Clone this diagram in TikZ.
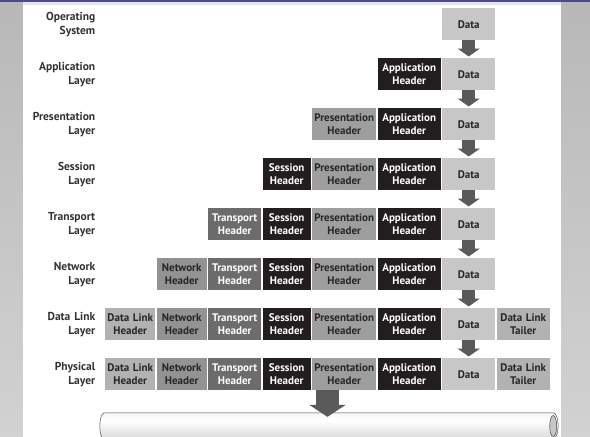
\documentclass[tikz,border=0pt]{standalone}
\usepackage{fontspec}
\setmainfont{PT Sans}
\usetikzlibrary{matrix,arrows.meta,calc}

\definecolor{backtop}{HTML}{B8B8B8}
\definecolor{backbot}{HTML}{D2D2D2}
\definecolor{rule}{HTML}{4B4A8C}
\definecolor{ink}{HTML}{262626}
\definecolor{labelink}{HTML}{333333}
\definecolor{datfill}{HTML}{C7C7C7}
\definecolor{blkfill}{HTML}{221E1F}
\definecolor{prefill}{HTML}{9E9E9E}
\definecolor{trafill}{HTML}{6C6C6C}
\definecolor{netfill}{HTML}{939393}
\definecolor{dlhfill}{HTML}{B2B2B2}
\definecolor{arrowgray}{HTML}{5A5A5A}

\newcommand\osifont{\bfseries\fontsize{11}{13}\selectfont}
\newcommand\layerfont{\bfseries\fontsize{11.5}{14}\selectfont}

\pgfdeclareverticalshading{pipeshade}{100bp}{color(0bp)=(gray!70); color(20bp)=(gray!35);
  color(60bp)=(white); color(80bp)=(gray!10); color(92bp)=(gray!25); color(100bp)=(gray!65)}

\tikzset{
  dat/.style={fill=datfill},
  app/.style={fill=blkfill, text=white},
  pre/.style={fill=prefill},
  ses/.style={fill=blkfill, text=white},
  tra/.style={fill=trafill, text=white},
  net/.style={fill=netfill},
  dlh/.style={fill=dlhfill},
  tai/.style={fill=dlhfill},
  drop/.style={draw=arrowgray, line width=12.5pt,
               -{Triangle[width=22pt, length=8pt]}, shorten >=1.5pt},
  bigdrop/.style={draw=arrowgray, line width=23pt,
               -{Triangle[width=36pt, length=12pt]}, shorten >=-4pt},
  tube/.style={minimum width=458pt, minimum height=26pt, inner sep=0pt}
}

\begin{document}
\begin{tikzpicture}[x=1pt, y=-1pt]
    \useasboundingbox (0,0) rectangle (590,437);
    % backdrop and white sheet
    \shade[top color=backtop, bottom color=backbot] (0,0) rectangle (590,437);
    \fill[rule] (0,0) rectangle (590,1.8);
    \fill[gray!20] (23,1.8) rectangle (561,5);
    \fill[white] (23,5) rectangle (561,437);

    \matrix (osi) [matrix of nodes, nodes in empty cells, ampersand replacement=\&,
            anchor=north west, inner sep=0pt, row sep=18pt, column sep=1.5pt,
            nodes={anchor=center, minimum height=32pt, inner sep=0pt,
                   align=center, text=ink, font=\osifont},
            column 1/.style={nodes={text width=70pt, align=right, text=labelink, font=\layerfont}},
            column 2/.style={nodes={text width=50pt}},
            column 3/.style={nodes={text width=50pt}},
            column 4/.style={nodes={text width=53pt}},
            column 5/.style={nodes={text width=48pt}},
            column 6/.style={nodes={text width=64pt}},
            column 7/.style={nodes={text width=63pt}},
            column 8/.style={nodes={text width=53pt}},
            column 9/.style={nodes={text width=53pt}}] at (25,8) {
      {Operating\\System} \&[8.5pt] \& \& \& \& \& \& |[dat]| Data \& \\
      {Application\\Layer} \&[8.5pt] \& \& \& \& \& |[app]| {Application\\Header} \& |[dat]| Data \& \\
      {Presentation\\Layer} \&[8.5pt] \& \& \& \& |[pre]| {Presentation\\Header} \& |[app]| {Application\\Header} \& |[dat]| Data \& \\
      {Session\\Layer} \&[8.5pt] \& \& \& |[ses]| {Session\\Header} \& |[pre]| {Presentation\\Header} \& |[app]| {Application\\Header} \& |[dat]| Data \& \\
      {Transport\\Layer} \&[8.5pt] \& \& |[tra]| {Transport\\Header} \& |[ses]| {Session\\Header} \& |[pre]| {Presentation\\Header} \& |[app]| {Application\\Header} \& |[dat]| Data \& \\
      {Network\\Layer} \&[8.5pt] \& |[net]| {Network\\Header} \& |[tra]| {Transport\\Header} \& |[ses]| {Session\\Header} \& |[pre]| {Presentation\\Header} \& |[app]| {Application\\Header} \& |[dat]| Data \& \\
      {Data Link\\Layer} \&[8.5pt] |[dlh]| {Data Link\\Header} \& |[net]| {Network\\Header} \& |[tra]| {Transport\\Header} \& |[ses]| {Session\\Header} \& |[pre]| {Presentation\\Header} \& |[app]| {Application\\Header} \& |[dat]| Data \& |[tai]| {Data Link\\Tailer} \\
      {Physical\\Layer} \&[8.5pt] |[dlh]| {Data Link\\Header} \& |[net]| {Network\\Header} \& |[tra]| {Transport\\Header} \& |[ses]| {Session\\Header} \& |[pre]| {Presentation\\Header} \& |[app]| {Application\\Header} \& |[dat]| Data \& |[tai]| {Data Link\\Tailer} \\
    };

    % data moving down the stack
    \foreach \r [count=\n from 2] in {1,...,7}
      \draw[drop] (osi-\r-8) -- (osi-\n-8);

    % the cable
    \node[tube] (pipe) at (329,426) {};
    \shade[shading=pipeshade, draw=gray!60!black, line width=0.5pt]
      ([xshift=4pt]pipe.north west) -- ([xshift=-5pt]pipe.north east)
      arc[start angle=90, end angle=-90, x radius=5pt, y radius=13pt]
      -- ([xshift=4pt]pipe.south west)
      arc[start angle=270, end angle=90, x radius=4pt, y radius=13pt] -- cycle;
    \draw[fill=gray!45, draw=gray!60!black, line width=0.5pt]
      ([xshift=-5pt]pipe.east) ellipse[x radius=3.5pt, y radius=10.5pt];

    \coordinate (wire) at ($(osi-8-2.south west)!0.5!(osi-8-9.south east)$);
    \draw[bigdrop] (wire) -- (wire |- pipe.north);
\end{tikzpicture}
\end{document}
